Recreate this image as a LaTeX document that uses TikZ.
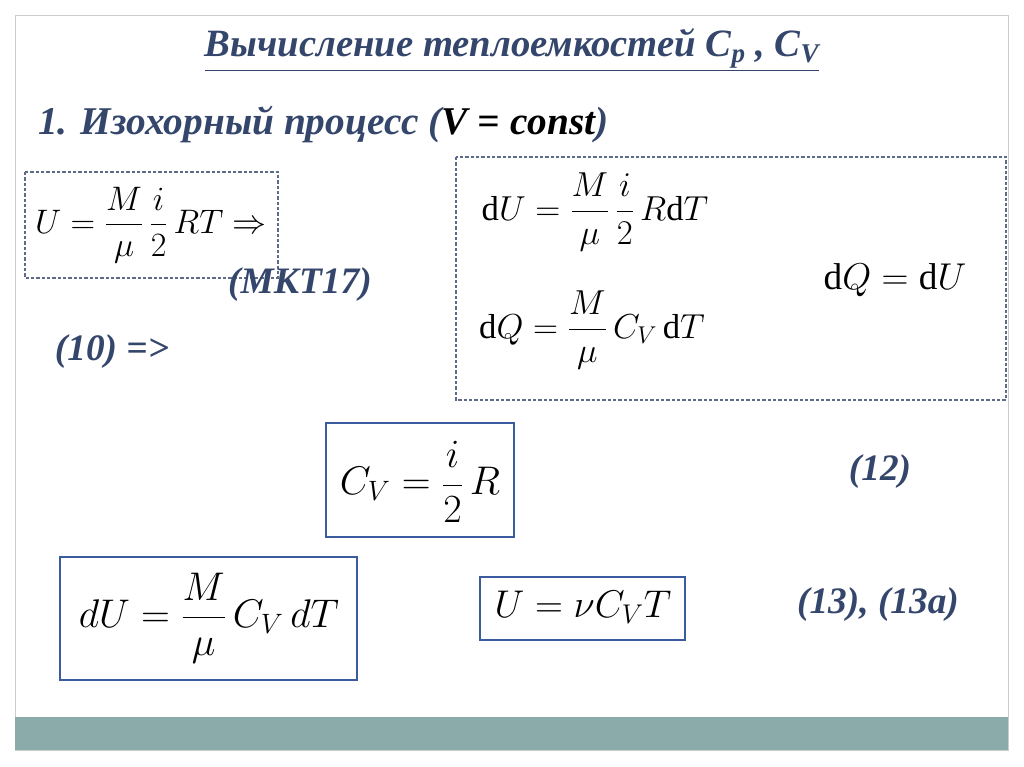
\RequirePackage{fix-cm}
\documentclass[tikz,border=0pt]{standalone}
\usepackage{fontspec}
\setmainfont{Liberation Serif}
\begin{document}
\begin{tikzpicture}[x=0.75pt,y=-0.75pt,
  lbl/.style={text=titleblue,font=\fontsize{28}{32}\selectfont\bfseries\itshape,inner sep=0},
  fm/.style={font=\fontsize{29}{33}\selectfont,inner sep=0},
  dbox/.style={draw=titleblue!80,dash pattern=on 2.5pt off 1.5pt,line width=0.8pt},
  sbox/.style={draw=boxblue,line width=1.2pt}]
\definecolor{titleblue}{HTML}{34466B}
\definecolor{boxblue}{HTML}{3A5C9E}
\definecolor{band}{HTML}{8AABA9}
\useasboundingbox (0,0) rectangle (1024,767);
\fill[white] (0,0) rectangle (1024,767);
\draw[gray!40] (15,15) rectangle (1008,750);
\fill[band] (15,717) rectangle (1008,750);
\node[lbl,font=\fontsize{29}{33}\selectfont\bfseries\itshape] (title) at (512,50) {\underline{Вычисление теплоемкостей C\textsubscript{p} , C\textsubscript{V}}};
\node[lbl,anchor=west,font=\fontsize{29.5}{33}\selectfont\bfseries\itshape] (iso) at (38,125) {1. Изохорный процесс (\textcolor{black}{V = const})};
\draw[dbox] (25,172) rectangle (278,278);
\node[fm,font=\fontsize{25.5}{29}\selectfont] (f1) at (151,225) {$\displaystyle U=\frac{M}{\mu}\,\frac{i}{2}\,RT\Rightarrow$};
\node[lbl] (mkt) at (300,285) {(МКТ17)};
\node[lbl] (ten) at (112,352) {(10) =>};
\draw[dbox] (456,157) rectangle (1006,400);
\node[fm,font=\fontsize{26}{30}\selectfont] (f2) at (595,212) {$\displaystyle \mathrm{d}U=\frac{M}{\mu}\,\frac{i}{2}\,R\mathrm{d}T$};
\node[fm,font=\fontsize{26}{30}\selectfont] (f3) at (592,330) {$\displaystyle \mathrm{d}Q=\frac{M}{\mu}\,C_V\,\mathrm{d}T$};
\node[fm,font=\fontsize{28}{32}\selectfont] (f4) at (895,280) {$\mathrm{d}Q=\mathrm{d}U$};
\draw[sbox] (326,423) rectangle (514,537);
\node[fm,font=\fontsize{30}{34}\selectfont] (f5) at (420,482) {$\displaystyle C_V=\frac{i}{2}\,R$};
\node[lbl] (twelve) at (880,472) {(12)};
\draw[sbox] (60,557) rectangle (357,680);
\node[fm,font=\fontsize{30}{34}\selectfont] (f6) at (209,618) {$\displaystyle dU=\frac{M}{\mu}\,C_V\,dT$};
\draw[sbox] (480,577) rectangle (685,640);
\node[fm,font=\fontsize{29}{33}\selectfont] (f7) at (583,607) {$U=\nu C_V T$};
\node[lbl] (thirteen) at (878,605) {(13), (13a)};
\end{tikzpicture}
\end{document}
